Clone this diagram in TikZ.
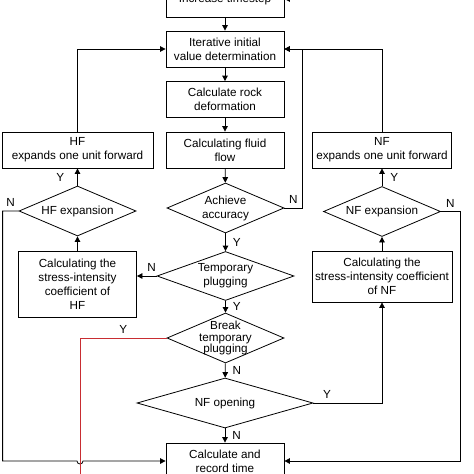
\documentclass[tikz,border=0pt]{standalone}
\usepackage{fontspec}
\setmainfont{Liberation Sans}
\usetikzlibrary{shapes.geometric,arrows.meta}
\definecolor{breakred}{RGB}{200,45,50}
\begin{document}
\begin{tikzpicture}[x=1pt,y=-1pt,line width=0.8pt,>={Triangle[length=5.5pt,width=5.5pt]},
	every node/.style={font=\fontsize{11.7}{14}\selectfont},
	proc/.style={draw,rectangle,align=center,inner sep=0pt,minimum width=118pt,minimum height=36pt},
	decision/.style={draw,diamond,aspect=2.3,align=center,inner sep=0pt,minimum width=117pt,minimum height=50pt},
	tag/.style={inner sep=1pt}]
	\useasboundingbox (0,0) rectangle (474,474);

	% process boxes
	\node[proc] (top) at (225,-1) {Increase timestep};
	\node[proc] (iter) at (225,49) {Iterative initial\\value determination};
	\node[proc] (rock) at (225,99.5) {Calculate rock\\deformation};
	\node[proc] (fluid) at (225,150) {Calculating fluid\\flow};
	\node[proc,minimum width=151pt] (hfx) at (77.5,150) {HF\\expands one unit forward};
	\node[proc,minimum width=139pt] (nfx) at (382,150) {NF\\expands one unit forward};
	\node[proc,minimum height=66pt] (hfs) at (77.5,284) {Calculating the\\stress-intensity\\coefficient of\\HF};
	\node[proc,minimum width=140pt,minimum height=51pt] (nfs) at (382,276.5) {Calculating the\\stress-intensity coefficient\\of NF};
	\node[proc] (rec) at (225,461) {Calculate and\\record time};

	% decisions
	\node[decision] (acc) at (225.5,208) {Achieve\\accuracy};
	\node[decision] (hfe) at (77.5,211) {HF expansion};
	\node[decision] (nfe) at (382,211.5) {NF expansion};
	\node[decision,minimum width=137pt,minimum height=49pt] (tmp) at (225.5,276) {Temporary\\plugging};
	\node[decision,label={[align=center,font=\fontsize{11.7}{11.5}\selectfont]center:Break\\temporary\\plugging}] (brk) at (225.5,338) {};
	\node[decision,minimum width=176pt] (nfo) at (225,403) {NF opening};

	\coordinate (tin) at (320,-1);
	\coordinate (hop) at (80,461);
	\coordinate (redend) at (80,480);

	% main column
	\draw[->] (tin) -- (top.east);
	\draw[->] (top) -- (iter);
	\draw[->] (iter) -- (rock);
	\draw[->] (rock) -- (fluid);
	\draw[->] (fluid) -- (acc);
	\draw[->] (acc) -- node[tag,right=6pt] {Y} (tmp);
	\draw[->] (tmp) -- node[tag,right=6pt] {Y} (brk);
	\draw[->] (brk) -- node[tag,right=6pt] {N} (nfo);
	\draw[->] (nfo) -- node[tag,right=6pt] {N} (rec);
	\draw[->] (tmp.west) -- node[tag,pos=0.25,above=3pt] {N} (tmp.west -| hfs.east);
	\draw[->] (hfs) -- (hfe);
	\draw[->] (hfe) -- node[tag,left=12pt] {Y} (hfx);
	\draw[->] (nfs) -- (nfe);
	\draw[->] (nfe) -- node[tag,right=7pt] {Y} (nfx);

	% loops
	\draw[->] (hfx.north) |- (iter.west);
	\draw[->] (nfx.north) |- (iter.east);
	\draw[->] (acc.east) -- node[tag,above=3pt] {N} ++(18,0) |- (iter.east);
	\draw[->] (nfo.east) -| node[tag,pos=0.1,above=3pt] {Y} (nfs.south);
	\draw[->] (nfe.east) -- node[tag,above=3pt] {N} ++(19,0) |- (rec.east);
	\draw[->] (hfe.west) -- node[tag,above=3pt] {N} ++(-16,0) |- ([xshift=-3pt]hop)
		arc[start angle=180,end angle=360,radius=3pt] -- (rec.west);
	\draw[breakred] (brk.west) -| node[tag,pos=0.25,above=3pt,black] {Y} (redend);
\end{tikzpicture}
\end{document}
